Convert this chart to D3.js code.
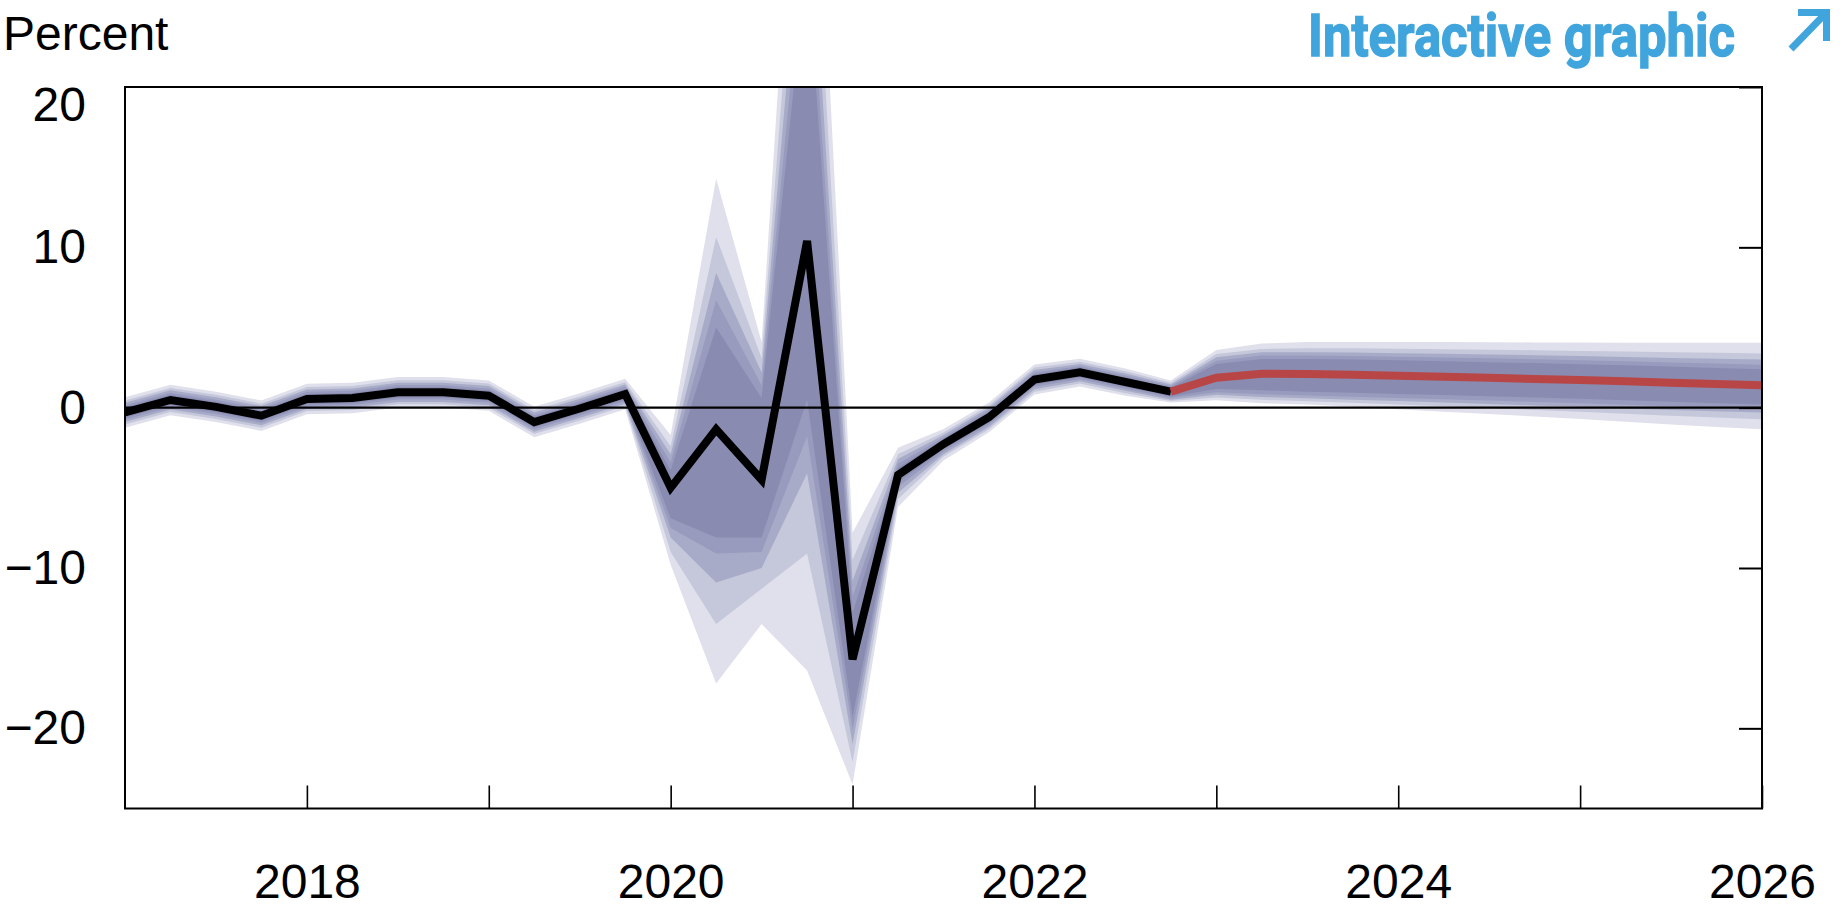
<!DOCTYPE html>
<html>
<head>
<meta charset="utf-8">
<script src="https://cdn.jsdelivr.net/npm/d3@7/dist/d3.min.js"></script>
<style>
  html, body { margin: 0; padding: 0; background: #fff; }
  svg { display: block; }
</style>
</head>
<body>
<svg id="chart" width="1840" height="913"></svg>
<script>
// ---------------- DATA ----------------
const quarters = [2017.0, 2017.25, 2017.5, 2017.75, 2018.0, 2018.25, 2018.5, 2018.75,
  2019.0, 2019.25, 2019.5, 2019.75, 2020.0, 2020.25, 2020.5, 2020.75,
  2021.0, 2021.25, 2021.5, 2021.75, 2022.0, 2022.25, 2022.5, 2022.75,
  2023.0, 2023.25, 2023.5, 2023.75, 2024.0, 2024.25, 2024.5, 2024.75,
  2025.0, 2025.25, 2025.5, 2025.75, 2026.0];

// history: 2017Q1 .. 2022Q4 (first 24 quarters)
const historyValues = [-0.3, 0.48, 0.05, -0.5, 0.54, 0.6, 0.96, 0.96, 0.75, -0.9, -0.05, 0.85,
  -5.0, -1.35, -4.5, 10.4, -15.7, -4.2, -2.27, -0.6, 1.75, 2.2, 1.6, 1.0];
// forecast: starts at last history quarter (index 23) through 2026
const forecastStart = 23;
const forecastValues = [1.0, 1.87, 2.12, 2.10, 2.05, 1.99, 1.93, 1.86, 1.79, 1.72, 1.64, 1.56, 1.48, 1.40];

// probability bands (outer 90% ... inner 50%), one value per quarter
const hi90 = [0.65, 1.43, 1.0, 0.45, 1.49, 1.55, 1.91, 1.91, 1.7, 0.05, 0.9, 1.8,
  -1.7, 14.3, 4.1, 48, -7.8, -2.5, -1.33, 0.33, 2.7, 3.05, 2.45, 1.69,
  3.6, 4.0, 4.1, 4.1, 4.1, 4.1, 4.08, 4.07, 4.06, 4.05, 4.05, 4.05, 4.05];
const hi80 = [0.45, 1.23, 0.8, 0.25, 1.29, 1.35, 1.71, 1.71, 1.5, -0.15, 0.7, 1.6,
  -2.4, 10.65, 3.1, 40, -9.5, -2.9, -1.55, 0.13, 2.5, 2.87, 2.27, 1.55,
  3.35, 3.66, 3.7, 3.7, 3.68, 3.65, 3.62, 3.58, 3.54, 3.5, 3.46, 3.42, 3.38];
const hi70 = [0.3, 1.08, 0.65, 0.1, 1.14, 1.2, 1.56, 1.56, 1.35, -0.3, 0.55, 1.45,
  -2.9, 8.4, 2.2, 35, -10.8, -3.2, -1.7, 0.0, 2.35, 2.73, 2.13, 1.45,
  3.14, 3.45, 3.46, 3.44, 3.4, 3.36, 3.32, 3.27, 3.22, 3.16, 3.1, 3.05, 3.0];
const hi60 = [0.15, 0.93, 0.5, -0.05, 0.99, 1.05, 1.41, 1.41, 1.2, -0.45, 0.4, 1.3,
  -3.4, 6.7, 1.4, 31, -11.8, -3.5, -1.85, -0.15, 2.2, 2.6, 2.0, 1.35,
  2.93, 3.25, 3.25, 3.22, 3.18, 3.13, 3.08, 3.02, 2.96, 2.89, 2.82, 2.75, 2.67];
const hi50 = [0.02, 0.8, 0.37, -0.18, 0.86, 0.92, 1.28, 1.28, 1.07, -0.58, 0.27, 1.17,
  -3.9, 5.0, 0.6, 28, -12.8, -3.75, -1.97, -0.28, 2.07, 2.5, 1.9, 1.25,
  2.73, 3.04, 3.03, 3.0, 2.95, 2.9, 2.84, 2.78, 2.71, 2.64, 2.56, 2.48, 2.4];
const lo50 = [-0.62, 0.16, -0.27, -0.82, 0.22, 0.28, 0.64, 0.64, 0.43, -1.22, -0.37, 0.53,
  -6.9, -8.1, -8.1, 0.5, -19.3, -4.65, -2.6, -0.92, 1.43, 1.9, 1.3, 0.7,
  1.17, 1.08, 1.0, 0.93, 0.86, 0.79, 0.71, 0.63, 0.55, 0.46, 0.37, 0.28, 0.2];
const lo60 = [-0.75, 0.03, -0.4, -0.95, 0.09, 0.15, 0.51, 0.51, 0.3, -1.35, -0.5, 0.4,
  -7.5, -9.1, -9.0, -1.8, -20.1, -4.95, -2.75, -1.05, 1.3, 1.78, 1.18, 0.6,
  0.96, 0.83, 0.76, 0.68, 0.6, 0.52, 0.44, 0.36, 0.27, 0.18, 0.09, 0.0, -0.05];
const lo70 = [-0.9, -0.12, -0.55, -1.1, -0.06, 0.0, 0.36, 0.36, 0.15, -1.5, -0.65, 0.25,
  -8.1, -10.9, -10.0, -4.1, -21.0, -5.3, -2.9, -1.2, 1.15, 1.65, 1.05, 0.5,
  0.81, 0.66, 0.58, 0.5, 0.41, 0.32, 0.23, 0.14, 0.05, -0.05, -0.14, -0.22, -0.3];
const lo80 = [-1.05, -0.27, -0.7, -1.25, -0.21, -0.15, 0.21, 0.21, 0.0, -1.65, -0.8, 0.1,
  -9.0, -13.5, -11.3, -9.1, -22.1, -5.7, -3.05, -1.35, 1.0, 1.5, 0.9, 0.42,
  0.64, 0.49, 0.4, 0.3, 0.2, 0.09, -0.02, -0.14, -0.26, -0.38, -0.5, -0.61, -0.72];
const lo90 = [-1.25, -0.47, -0.9, -1.45, -0.41, -0.35, 0.01, 0.01, -0.2, -1.85, -1.0, -0.1,
  -9.8, -17.2, -13.5, -16.4, -23.5, -6.2, -3.3, -1.54, 0.82, 1.32, 0.75, 0.33,
  0.46, 0.27, 0.2, 0.05, -0.1, -0.25, -0.4, -0.55, -0.7, -0.88, -1.05, -1.2, -1.35];

const yTickValues = [20, 10, 0, -10, -20];
const yTickLabels = ["20", "10", "0", "\u221210", "\u221220"];
const xTickValues = [2018, 2019, 2020, 2021, 2022, 2023, 2024, 2025, 2026];
const xLabelValues = [2018, 2020, 2022, 2024, 2026];
const xLabels = ["2018", "2020", "2022", "2024", "2026"];

// ---------------- LAYOUT ----------------
const L = 125, R = 1762, T = 87, B = 808.5;
const FONT = "'Liberation Sans', Arial, Helvetica, sans-serif";
const FS = 48;

const svg = d3.select("#chart");
const x = d3.scaleLinear().domain([2017, 2026]).range([L, R]);
const y = d3.scaleLinear().domain([-25, 20]).range([B, T]);

svg.append("defs").append("clipPath").attr("id", "plotclip")
  .append("rect").attr("x", L).attr("y", T).attr("width", R - L).attr("height", B - T);

const plot = svg.append("g").attr("clip-path", "url(#plotclip)");

// bands
const bands = [
  { lo: lo90, hi: hi90, color: "#dfe0eb" },
  { lo: lo80, hi: hi80, color: "#c5c7da" },
  { lo: lo70, hi: hi70, color: "#a8abc8" },
  { lo: lo60, hi: hi60, color: "#989bbd" },
  { lo: lo50, hi: hi50, color: "#898cb0" }
];
const idx = d3.range(quarters.length);
bands.forEach(b => {
  const area = d3.area()
    .x(i => x(quarters[i]))
    .y0(i => y(b.lo[i]))
    .y1(i => y(b.hi[i]));
  plot.append("path").datum(idx).attr("d", area).attr("fill", b.color).attr("stroke", "none");
});

// zero line
plot.append("line")
  .attr("x1", x(2017)).attr("x2", x(2026))
  .attr("y1", y(0)).attr("y2", y(0))
  .attr("stroke", "#000").attr("stroke-width", 2.4);

// history line
const line = d3.line().x(d => x(d[0])).y(d => y(d[1]));
const histData = historyValues.map((v, i) => [quarters[i], v]);
plot.append("path").datum(histData).attr("d", line)
  .attr("fill", "none").attr("stroke", "#000").attr("stroke-width", 8)
  .attr("stroke-linejoin", "miter").attr("stroke-miterlimit", 4);

// forecast line
const fcData = forecastValues.map((v, i) => [quarters[forecastStart + i], v]);
plot.append("path").datum(fcData).attr("d", line)
  .attr("fill", "none").attr("stroke", "#b84646").attr("stroke-width", 8)
  .attr("stroke-linejoin", "miter");

// frame
svg.append("rect").attr("x", L).attr("y", T).attr("width", R - L).attr("height", B - T)
  .attr("fill", "none").attr("stroke", "#000").attr("stroke-width", 2);

// right ticks (inward)
const rightAxis = svg.append("g").attr("transform", `translate(${R},0)`)
  .call(d3.axisLeft(y).tickValues(yTickValues).tickSize(23).tickFormat(""));
rightAxis.select(".domain").remove();
rightAxis.selectAll(".tick line").attr("stroke", "#000").attr("stroke-width", 2);

// left labels
const leftAxis = svg.append("g").attr("transform", `translate(${L},0)`)
  .call(d3.axisLeft(y).tickValues(yTickValues).tickSize(0).tickPadding(39)
    .tickFormat((d, i) => yTickLabels[i]));
leftAxis.select(".domain").remove();
leftAxis.selectAll(".tick line").remove();
leftAxis.selectAll("text").attr("font-family", FONT).attr("font-size", FS).attr("fill", "#000");
leftAxis.selectAll(".tick").filter(d => d === 20).select("text").attr("y", 18);

// bottom ticks (inward)
const bottomTicks = svg.append("g").attr("transform", `translate(0,${B})`)
  .call(d3.axisTop(x).tickValues(xTickValues).tickSize(23).tickFormat(""));
bottomTicks.select(".domain").remove();
bottomTicks.selectAll(".tick line").attr("stroke", "#000").attr("stroke-width", 1.6);

// bottom labels
const bottomLabels = svg.append("g").attr("transform", `translate(0,${B})`)
  .call(d3.axisBottom(x).tickValues(xLabelValues).tickSize(0).tickPadding(55)
    .tickFormat((d, i) => xLabels[i]));
bottomLabels.select(".domain").remove();
bottomLabels.selectAll(".tick line").remove();
bottomLabels.selectAll("text").attr("font-family", FONT).attr("font-size", FS).attr("fill", "#000");

// "Percent"
svg.append("text").attr("x", 3).attr("y", 50)
  .attr("font-family", FONT).attr("font-size", FS).attr("fill", "#000")
  .text("Percent");

// "Interactive graphic" + arrow
svg.append("text").attr("x", 1308).attr("y", 56)
  .attr("font-family", "Roboto, 'Open Sans', sans-serif").attr("font-weight", 700)
  .attr("font-size", 60).attr("fill", "#40a5dc")
  .attr("stroke", "#40a5dc").attr("stroke-width", 1.4)
  .attr("textLength", 427).attr("lengthAdjust", "spacingAndGlyphs")
  .text("Interactive graphic");

const arrow = svg.append("g").attr("stroke", "#40a5dc").attr("stroke-width", 7)
  .attr("fill", "none").attr("stroke-linecap", "butt").attr("stroke-linejoin", "miter");
arrow.append("path").attr("d", "M1798,12.5 L1826.5,12.5 L1826.5,41");
arrow.append("path").attr("d", "M1826,13 L1791,49");
</script>
</body>
</html>
